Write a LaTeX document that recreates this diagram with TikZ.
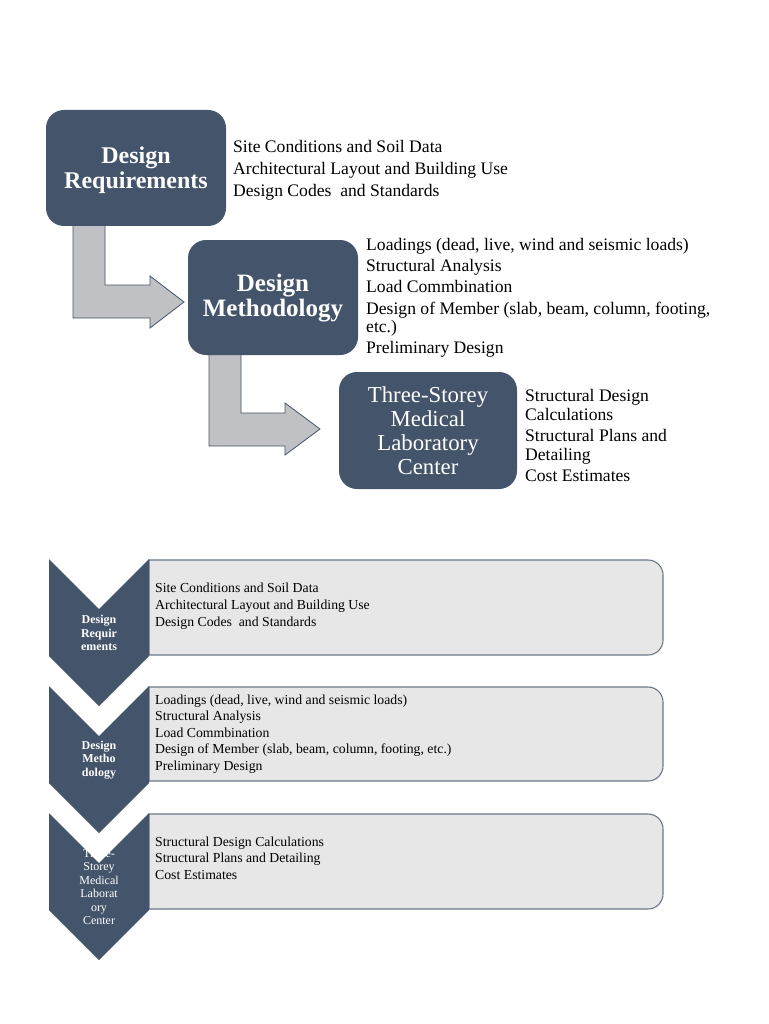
\documentclass[tikz,border=0pt]{standalone}
\usepackage{fontspec}
\setmainfont{Liberation Serif}
\definecolor{slate}{HTML}{44546A}
\definecolor{arrowgray}{HTML}{BFC1C5}
\definecolor{panelgray}{HTML}{E7E7E7}
\definecolor{panelline}{HTML}{6B7789}
\newcommand{\drawpanel}[2]{%
  \draw[panel] (149,#1) -- (648,#1) arc[start angle=-90, end angle=0, radius=15]
    -- (663,#2-15) arc[start angle=0, end angle=90, radius=15] -- (149,#2) -- cycle;}
\newcommand{\drawchev}[1]{%
  \fill[chevron] (49,#1) -- (99,#1+50) -- (149,#1) -- (149,#1+97) -- (99,#1+147) -- (49,#1+97) -- cycle;}
\begin{document}
\begin{tikzpicture}[x=1pt,y=-1pt,
  titlebox/.style={fill=slate, rounded corners=18pt, text=white, align=center, inner sep=0pt},
  listtxt/.style={anchor=base west, inner sep=0pt, font=\fontsize{17.6}{19}\selectfont},
  paneltxt/.style={anchor=base west, inner sep=0pt, font=\fontsize{13.75}{15}\selectfont},
  bentarrow/.style={fill=arrowgray, draw=slate, line width=0.8pt, line join=miter},
  chevron/.style={fill=slate},
  chevtxt/.style={text=white, align=center, inner sep=0pt, font=\fontsize{12}{13.5}\selectfont},
  panel/.style={fill=panelgray, draw=panelline, line width=1.1pt}]

\path[use as bounding box, fill=white] (0,0) rectangle (768,1024);

% bent arrows
\draw[bentarrow] (73,215) -- (105,215) -- (105,285) -- (150,285) -- (150,276) -- (184,302)
  -- (150,328) -- (150,318) -- (73,318) -- cycle;
\draw[bentarrow] (209,345) -- (241,345) -- (241,413) -- (285,413) -- (285,403) -- (320,429)
  -- (285,455) -- (285,446) -- (209,446) -- cycle;

% title boxes
\node[titlebox, minimum width=180pt, minimum height=116pt,
  font=\fontsize{24}{25}\selectfont\bfseries] (req) at (136,168) {\rule{0pt}{20.5pt}Design\\Requirements};
\node[titlebox, minimum width=170pt, minimum height=115pt,
  font=\fontsize{25}{25}\selectfont\bfseries] (meth) at (273,297.5) {\rule{0pt}{19.5pt}Design\\Methodology};
\node[titlebox, minimum width=178pt, minimum height=117pt,
  font=\fontsize{22.8}{23.8}\selectfont] (lab) at (428,430.5) {Three-Storey\\Medical\\Laboratory\\Center};

% lists beside boxes
\foreach \t/\yy [count=\i] in {Site Conditions and Soil Data/153,
    Architectural Layout and Building Use/175,
    Design Codes~ and Standards/197}
  \node[listtxt] (la\i) at (233,\yy) {\t};
\foreach \t/\yy [count=\i] in {{Loadings (dead, live, wind and seismic loads)}/250.5,
    Structural Analysis/271.5,
    Load Commbination/292.5,
    {Design of Member (slab, beam, column, footing,}/314,
    etc.)/332.5,
    Preliminary Design/353.5}
  \node[listtxt] (lb\i) at (366,\yy) {\t};
\foreach \t/\yy [count=\i] in {Structural Design/401.7,
    Calculations/420.7,
    Structural Plans and/441.7,
    Detailing/460,
    Cost Estimates/481}
  \node[listtxt] (lc\i) at (525,\yy) {\t};

% lower panels
\drawpanel{560}{655}
\drawpanel{687}{781}
\drawpanel{814}{909}

% chevrons
\drawchev{559}
\drawchev{686}
\drawchev{813}

\node[chevtxt, font=\fontsize{12}{13.5}\selectfont\bfseries] (c1) at (99,633) {Design\\Requir\\ements};
\node[chevtxt, font=\fontsize{12}{13.5}\selectfont\bfseries] (c2) at (99,760) {Design\\Metho\\dology};
\node[chevtxt] (c3) at (99,887) {Three-\\Storey\\Medical\\Laborat\\ory\\Center};

% panel texts
\foreach \t [count=\i] in {Site Conditions and Soil Data,
    Architectural Layout and Building Use,
    Design Codes~ and Standards}
  \node[paneltxt] (pa\i) at (155,592.7+16.65*\i-16.65) {\t};
\foreach \t [count=\i] in {{Loadings (dead, live, wind and seismic loads)},
    Structural Analysis,
    Load Commbination,
    {Design of Member (slab, beam, column, footing, etc.)},
    Preliminary Design}
  \node[paneltxt] (pb\i) at (155,704+16.5*\i-16.5) {\t};
\foreach \t [count=\i] in {Structural Design Calculations,
    Structural Plans and Detailing,
    Cost Estimates}
  \node[paneltxt] (pc\i) at (155,846+16.65*\i-16.65) {\t};
\end{tikzpicture}
\end{document}
